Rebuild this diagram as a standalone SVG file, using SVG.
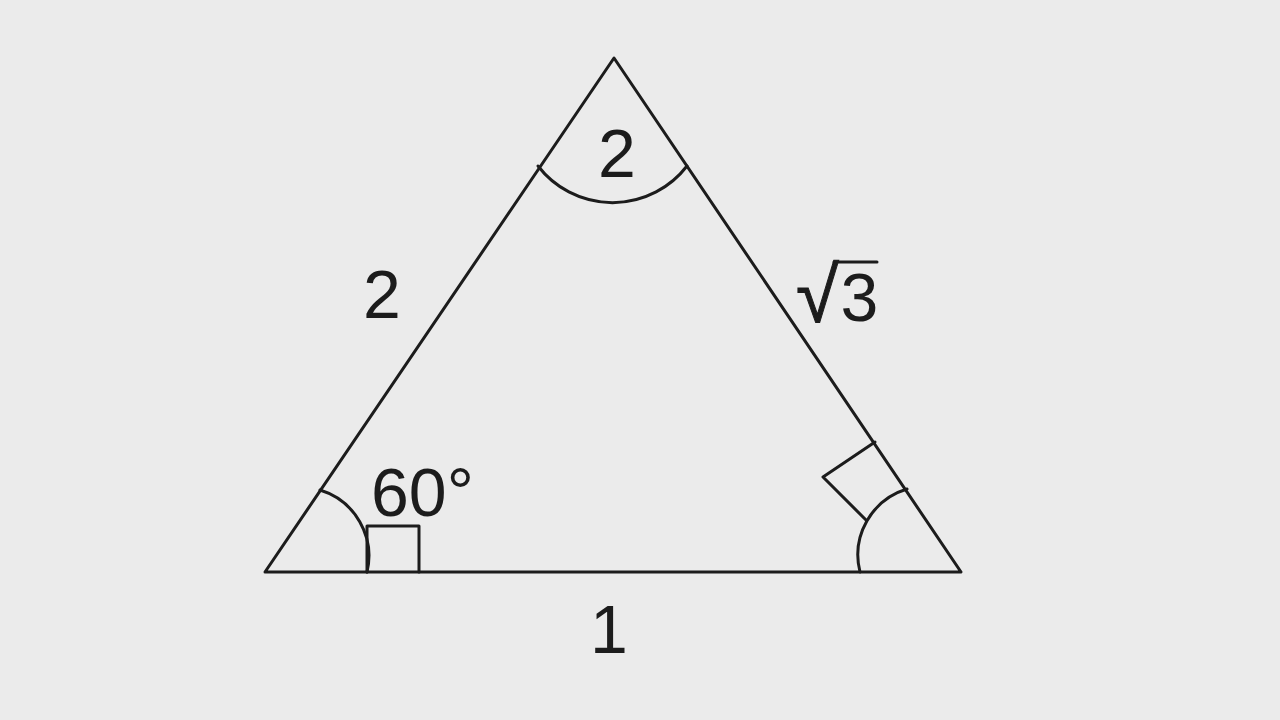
<svg xmlns="http://www.w3.org/2000/svg" width="1280" height="720" viewBox="0 0 1280 720">
<style>
.ln{fill:none;stroke:#1c1c1c;stroke-width:3;stroke-linejoin:round;stroke-linecap:round}
.tx{font-family:"Liberation Sans",Arial,sans-serif;font-size:68px;fill:#1c1c1c}
</style>
<rect width="1280" height="720" fill="#ebebeb"/>
<g id="triangle">
<path class="ln" d="M265,572 L614,58 L961,572 Z"/>
</g>
<g id="marks">
<path class="ln" d="M538,166 A94,94 0 0 0 687,166"/>
<path class="ln" d="M320,490 A69,69 0 0 1 367,572"/>
<path class="ln" d="M367,572 V526 H419 V572"/>
<path class="ln" d="M907,489 A69,69 0 0 0 860,572"/>
<path class="ln" d="M875,442 L823,477 L866,520"/>
</g>
<g id="labels">
<text class="tx" x="617" y="177" text-anchor="middle">2</text>
<text class="tx" x="382" y="318" text-anchor="middle">2</text>
<text class="tx" x="371" y="516">60°</text>
<text class="tx" x="609" y="653" text-anchor="middle">1</text>
<text class="tx" x="796" y="322" style="font-size:78px;stroke:#1c1c1c;stroke-width:1">√</text>
<text class="tx" x="859.5" y="321" text-anchor="middle">3</text>
<line class="ln" x1="834" y1="262" x2="877" y2="262"/>
</g>
</svg>
